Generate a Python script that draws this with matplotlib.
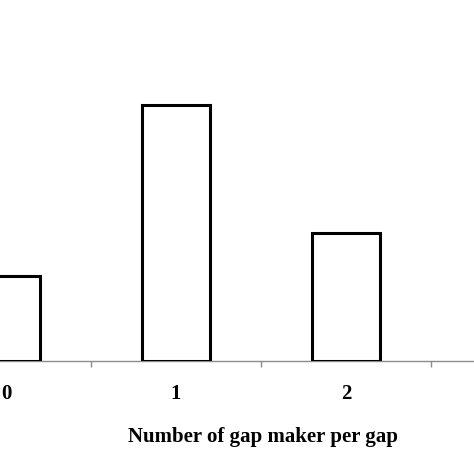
import matplotlib
matplotlib.use("Agg")
import matplotlib.pyplot as plt
from matplotlib.ticker import FixedLocator, NullFormatter

categories = ["0", "1", "2", "3"]
counts = [2, 6, 3, 0]

plt.rcParams["font.family"] = ["Liberation Serif", "DejaVu Serif"]

fig = plt.figure(figsize=(4.74, 4.74), dpi=100)
ax = fig.add_axes([0.0, 0.2384, 1.0, 0.7616])

xs = list(range(len(categories)))
ax.bar(xs, counts, width=0.40, facecolor="white", edgecolor="black",
       linewidth=2.2, zorder=3)

ax.set_xlim(-0.035, 2.753)
ax.set_ylim(0, 8.46)

for side in ("top", "right", "left"):
    ax.spines[side].set_visible(False)
ax.spines["bottom"].set_color("#8c8c8c")
ax.spines["bottom"].set_linewidth(1.0)
ax.set_yticks([])

# labels at category centres, tick marks between categories
ax.xaxis.set_major_locator(FixedLocator([x + 0.5 for x in xs]))
ax.xaxis.set_major_formatter(NullFormatter())
ax.xaxis.set_minor_locator(FixedLocator(xs))
ax.set_xticklabels(categories, minor=True, fontsize=15, fontweight="bold")
ax.tick_params(axis="x", which="major", direction="out", length=4,
               width=1.0, color="#8c8c8c")
ax.tick_params(axis="x", which="minor", length=0, pad=16.5)

ax.set_xlabel("Number of gap maker per gap", fontsize=15, fontweight="bold")
ax.xaxis.set_label_coords(0.555, -0.184)

fig.savefig("out.png", dpi=100)
